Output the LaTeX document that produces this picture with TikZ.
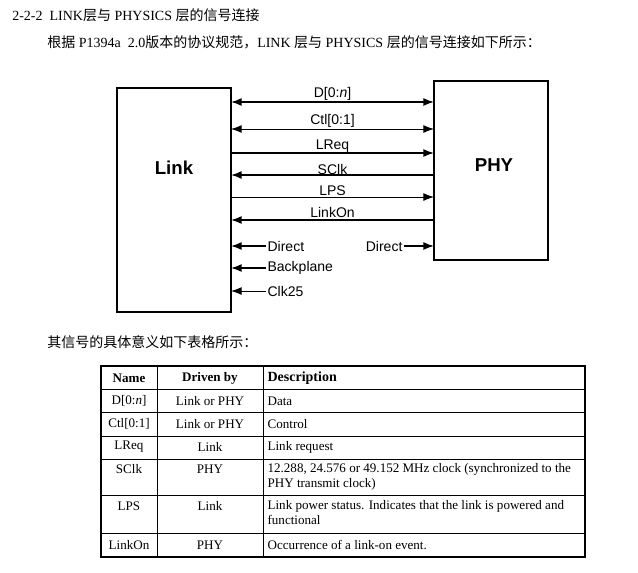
\documentclass[tikz,border=0pt]{standalone}
\usepackage{fontspec}
\setmainfont{Liberation Serif}
\setsansfont{Liberation Sans}
\newfontfamily\cjk{Noto Sans CJK SC}
\usetikzlibrary{arrows.meta}
\begin{document}
\begin{tikzpicture}[x=0.75pt,y=-0.75pt,
  sig/.style={line width=1.1pt,-{Latex[length=8pt,width=6pt]}},
  bsig/.style={line width=1.1pt,{Latex[length=8pt,width=6pt]}-{Latex[length=8pt,width=6pt]}},
  lab/.style={font=\sffamily\fontsize{10.5}{12}\selectfont,inner sep=1pt},
  cell/.style={font=\fontsize{9.8}{11}\selectfont,inner sep=1pt},
  txt/.style={font=\fontsize{10.5}{12}\selectfont,anchor=west,inner sep=0}]
\useasboundingbox (0,0) rectangle (638,572);
\node[txt] (t1) at (12,15) {2-2-2 \ LINK{\cjk 层与} PHYSICS {\cjk 层的信号连接}};
\node[txt] (t2) at (47,42) {{\cjk 根据} P1394a \ 2.0{\cjk 版本的协议规范，}LINK {\cjk 层与} PHYSICS {\cjk 层的信号连接如下所示：}};
\node[txt] (t3) at (47,342) {{\cjk 其信号的具体意义如下表格所示：}};
% boxes
\draw[line width=1pt] (117,88) rectangle (231,312);
\draw[line width=1pt] (434,81) rectangle (548,260);
\node[font=\sffamily\bfseries\fontsize{14}{16}\selectfont] (link) at (174,168) {Link};
\node[font=\sffamily\bfseries\fontsize{14}{16}\selectfont] (phy) at (494,165) {PHY};
\coordinate (L1) at (231,102); \coordinate (R1) at (434,102);
\coordinate (L2) at (231,129); \coordinate (R2) at (434,129);
\coordinate (L3) at (231,153); \coordinate (R3) at (434,153);
\coordinate (L4) at (231,175); \coordinate (R4) at (434,175);
\coordinate (L5) at (231,197); \coordinate (R5) at (434,197);
\coordinate (L6) at (231,220); \coordinate (R6) at (434,220);
\draw[bsig] (L1) -- (R1) node[midway,above,lab] {D[0:\textit{n}]};
\draw[bsig,line width=0.7pt] (L2) -- (R2) node[midway,above,lab] {Ctl[0:1]};
\draw[sig] (L3) -- (R3) node[midway,above,lab,inner sep=0pt] {LReq};
\draw[sig] (R4) -- (L4) node[midway,above,lab,inner sep=0pt] {SClk};
\draw[sig,line width=0.7pt] (L5) -- (R5) node[midway,above,lab] {LPS};
\draw[sig] (R6) -- (L6) node[midway,above,lab] {LinkOn};
\node[lab,anchor=west] (d1) at (266,246) {Direct};
\node[lab,anchor=west] (bp) at (266,268) {Backplane};
\node[lab,anchor=west] (ck) at (266,291) {Clk25};
\node[lab,anchor=east] (d2) at (404,246) {Direct};
\draw[sig] (d1.west) -- (231,246);
\draw[sig] (bp.west) -- (231,268);
\draw[sig,line width=0.7pt] (ck.west) -- (231,291);
\draw[sig] (d2.east) -- (434,246);
% table
\draw[line width=1.4pt] (101,366) rectangle (585,557);
\foreach \y in {389,412,436,459,495,533} \draw[line width=0.6pt] (101,\y) -- (585,\y);
\draw[line width=0.6pt] (157,366) -- (157,557);
\draw[line width=0.6pt] (263,366) -- (263,557);
\node[cell,font=\bfseries\fontsize{9.8}{11}\selectfont] at (129,378) {Name};
\node[cell,font=\bfseries\fontsize{9.8}{11}\selectfont] at (210,378) {Driven by};
\node[cell,anchor=west,font=\bfseries\fontsize{10.5}{12}\selectfont] at (266,378) {Description};
\foreach \y/\a/\b/\c in {401/{D[0:\textit{n}]}/Link or PHY/Data,
  424/{Ctl[0:1]}/Link or PHY/Control,
  447/LReq/Link/Link request,
  545/LinkOn/PHY/Occurrence of a link-on event.}{
  \node[cell] at (129,\y) {\a};
  \node[cell] at (210,\y) {\b};
  \node[cell,anchor=west] at (266,\y) {\c};}
\node[cell] at (129,469) {SClk};
\node[cell] at (210,469) {PHY};
\node[cell,anchor=north west,align=left] at (266,462) {12.288, 24.576 or 49.152 MHz clock (synchronized to the\\PHY transmit clock)};
\node[cell] at (129,506) {LPS};
\node[cell] at (210,506) {Link};
\node[cell,anchor=north west,align=left] at (266,499) {Link power status. Indicates that the link is powered and\\functional};
\end{tikzpicture}
\end{document}
